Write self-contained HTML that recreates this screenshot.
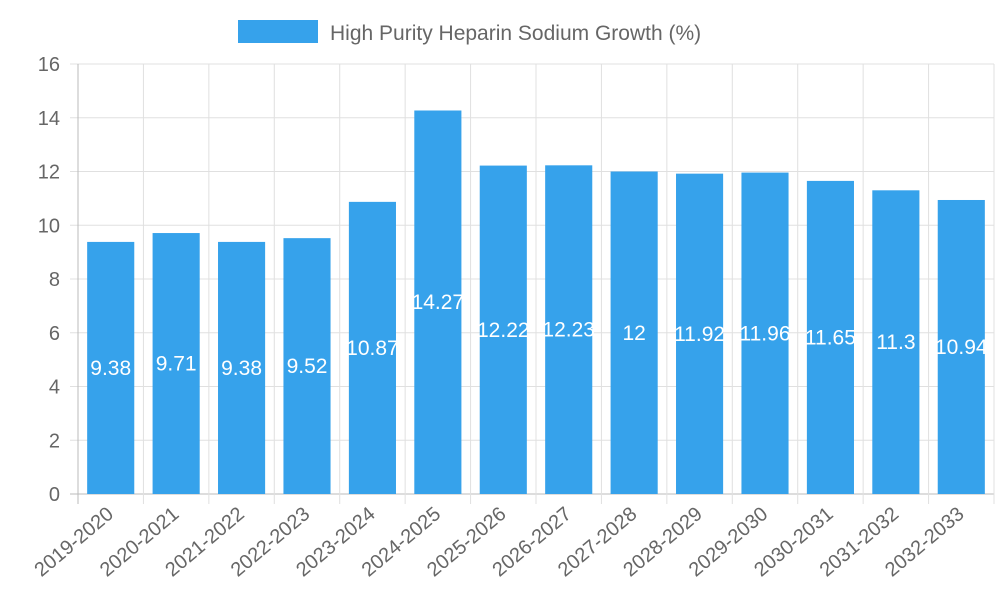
<!DOCTYPE html>
<html><head><meta charset="utf-8"><style>
html,body{margin:0;padding:0;background:#fff;}
svg{display:block;font-family:"Liberation Sans",sans-serif;}
</style></head><body>
<svg id="chart" width="1000" height="600">
<g>
<rect x="238" y="20" width="80" height="23" fill="#36a2eb"/>
<text x="330" y="40" font-size="21" fill="#666">High Purity Heparin Sodium Growth (%)</text>
</g>
<g id="grid"></g>
<g id="bars"></g>
<g id="axes"></g>
</svg>
<script>
const categories=["2019-2020","2020-2021","2021-2022","2022-2023","2023-2024","2024-2025","2025-2026","2026-2027","2027-2028","2028-2029","2029-2030","2030-2031","2031-2032","2032-2033"];
const values=[9.38,9.71,9.38,9.52,10.87,14.27,12.22,12.23,12,11.92,11.96,11.65,11.3,10.94];
const yTicks=[0,2,4,6,8,10,12,14,16];
const NS="http://www.w3.org/2000/svg";
const L=78,R=994,T=64,B=494,YMAX=16;
const band=(R-L)/categories.length;
const y=v=>B-(v/YMAX)*(B-T);
const x=i=>L+i*band;
function mk(tag,attrs,parent){const e=document.createElementNS(NS,tag);for(const k in attrs)e.setAttribute(k,attrs[k]);parent.appendChild(e);return e;}
const grid=document.getElementById('grid'),bars=document.getElementById('bars'),axes=document.getElementById('axes');
yTicks.forEach(t=>{
 const ln=mk('line',{x1:70,x2:R,y1:y(t),y2:y(t),stroke:t===0?'#bbb':'#e0e0e0','stroke-width':1},grid);
 
 
 const tx=mk('text',{x:60,y:y(t)+7,'text-anchor':'end','font-size':20,fill:'#666'},axes);
 tx.textContent=t;
 
 
});
for(let i=0;i<=categories.length;i++){
 const ln=mk('line',{x1:x(i),x2:x(i),y1:T,y2:B+10,stroke:i===0?'#bbb':'#e0e0e0','stroke-width':1},grid);
 
 
}
categories.forEach((c,i)=>{
 const bw=band*0.72,bx=x(i)+(band-bw)/2,v=values[i];
 const r=mk('rect',{x:bx,y:y(v),width:bw,height:B-y(v),fill:'#36a2eb'},bars);
 
 
 const lb=mk('text',{x:x(i)+band/2,y:(y(v)+B)/2+7,'text-anchor':'middle','font-size':21,fill:'#fff'},bars);
 lb.textContent=v;
 
 
 const cx=x(i)+band/2+4,cy=B+22;
 const tx=mk('text',{x:cx,y:cy,'text-anchor':'end','font-size':20,fill:'#666',transform:`rotate(-40 ${cx} ${cy})`},axes);
 tx.textContent=c;
 
 
});
</script>
</body></html>
